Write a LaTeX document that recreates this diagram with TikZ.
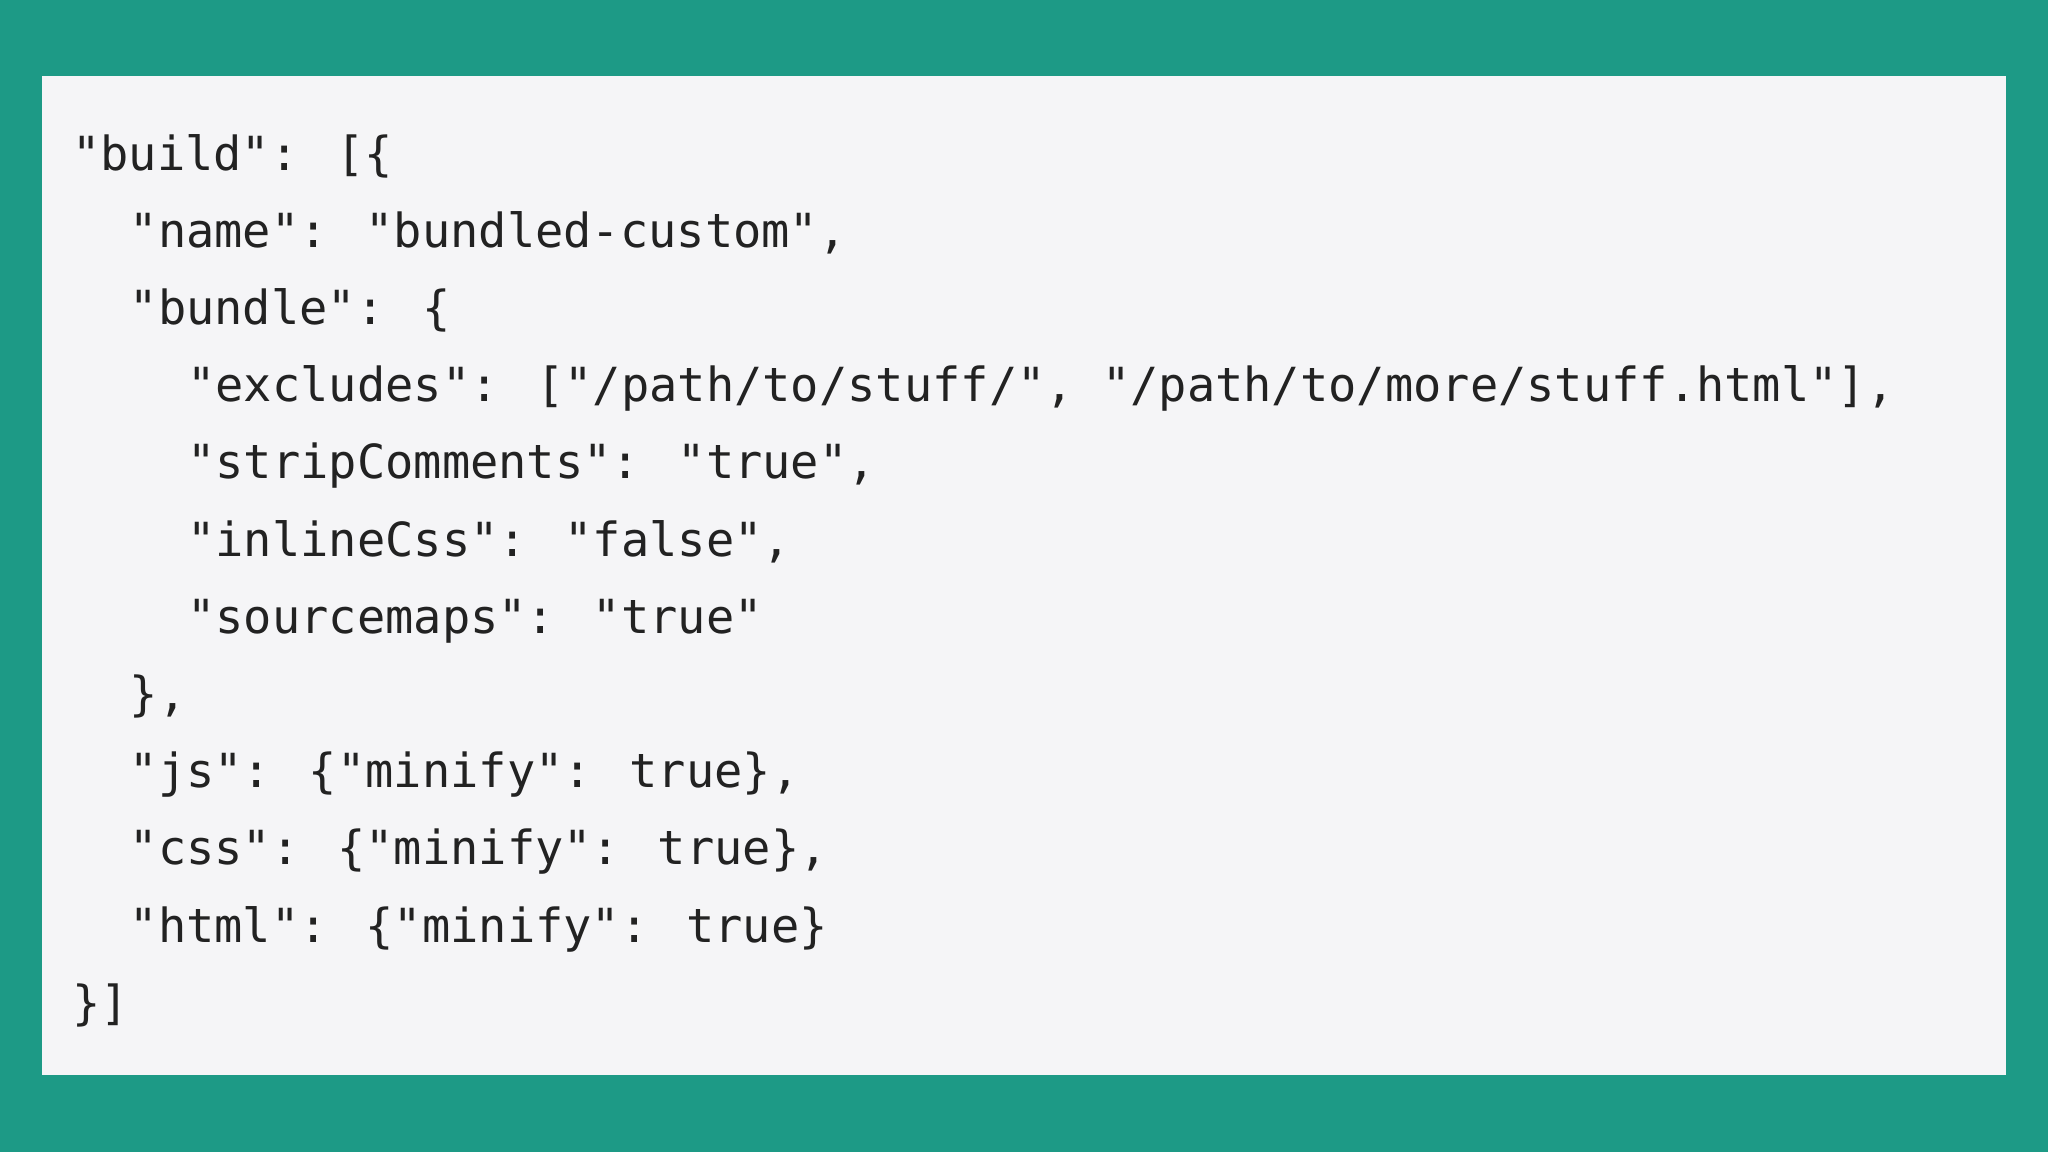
\documentclass[tikz,border=0pt]{standalone}
\usepackage{fontspec}
\newfontfamily\codefont{DejaVu Sans Mono}
\definecolor{teal1}{HTML}{1D9A86}
\definecolor{panel}{HTML}{F5F5F7}
\definecolor{ink}{HTML}{222222}
\begin{document}
\begin{tikzpicture}[x=1pt,y=-1pt,
  code/.style={anchor=base west,inner sep=0pt,text=ink,font=\codefont\fontsize{47}{56}\selectfont}]
\useasboundingbox (0,0) rectangle (2048,1152);
\fill[teal1] (0,0) rectangle (2048,1152);
\fill[panel] (42,76) rectangle (2006,1075);
\def\ch{28.8}
\def\lh{77.2}
\node[code] (l1) at (72,170) {"build": [\{};
\node[code] (l2) at (72+2*\ch,170+1*\lh) {"name": "bundled-custom",};
\node[code] (l3) at (72+2*\ch,170+2*\lh) {"bundle": \{};
\node[code] (l4) at (72+4*\ch,170+3*\lh) {"excludes": ["/path/to/stuff/", "/path/to/more/stuff.html"],};
\node[code] (l5) at (72+4*\ch,170+4*\lh) {"stripComments": "true",};
\node[code] (l6) at (72+4*\ch,170+5*\lh) {"inlineCss": "false",};
\node[code] (l7) at (72+4*\ch,170+6*\lh) {"sourcemaps": "true"};
\node[code] (l8) at (72+2*\ch,170+7*\lh) {\},};
\node[code] (l9) at (72+2*\ch,170+8*\lh) {"js": \{"minify": true\},};
\node[code] (l10) at (72+2*\ch,170+9*\lh) {"css": \{"minify": true\},};
\node[code] (l11) at (72+2*\ch,170+10*\lh) {"html": \{"minify": true\}};
\node[code] (l12) at (72,170+11*\lh) {\}]};
\end{tikzpicture}
\end{document}
